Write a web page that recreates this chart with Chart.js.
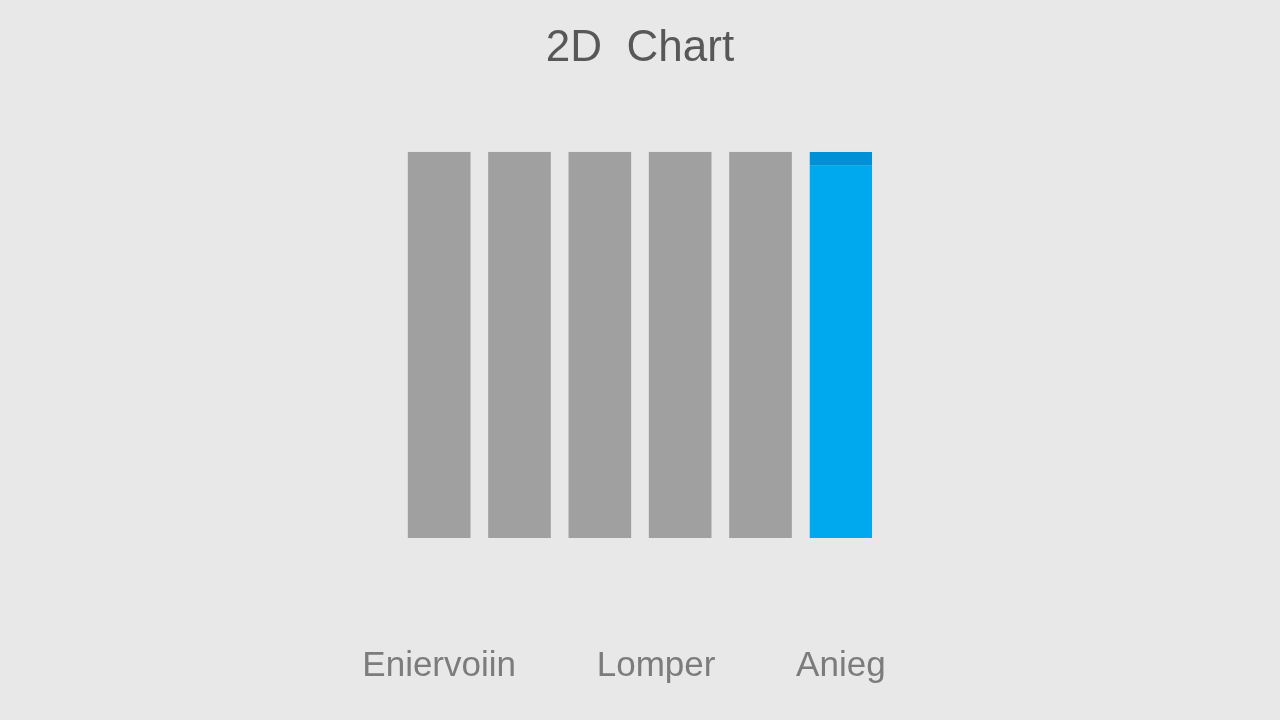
<!DOCTYPE html>
<html>
<head>
<meta charset="utf-8">
<title>2D Chart</title>
<script src="https://cdn.jsdelivr.net/npm/chart.js@4"></script>
<style>
  html, body { margin: 0; padding: 0; background: #e8e8e8; }
  #wrap { width: 1280px; height: 720px; position: relative; }
</style>
</head>
<body>
<div id="wrap"><canvas id="barChart"></canvas></div>
<script>
// chart data
const categories = ["1", "2", "3", "4", "5", "6"];
const values = [100, 100, 100, 100, 100, 100];
const highlightIndex = 5;

// the three labels under the bars and where they sit on the category range
const tickLabels = ["Eniervoiin", "Lomper", "Anieg"];
const tickPositions = [0.5, 3.2, 5.5];

const barColors = values.map((_, i) => i === highlightIndex ? "#00a9ee" : "#a0a0a0");
const barBorders = values.map((_, i) => i === highlightIndex ? "#0090d6" : "#a0a0a0");
const barBorderWidths = values.map((_, i) =>
  i === highlightIndex ? { top: 14, left: 0, right: 0, bottom: 0 } : 0
);

const ctx = document.getElementById("barChart").getContext("2d");

const myBarChart = new Chart(ctx, {
  type: "bar",
  data: {
    labels: categories,
    datasets: [{
      data: values,
      backgroundColor: barColors,
      borderColor: barBorders,
      borderWidth: barBorderWidths,
      borderSkipped: false,
      categoryPercentage: 1,
      barPercentage: 0.78
    }]
  },
  options: {
    responsive: true,
    maintainAspectRatio: false,
    animation: false,
    layout: {
      padding: { left: 399, right: 399, top: 0, bottom: 37 }
    },
    plugins: {
      legend: { display: false },
      tooltip: { enabled: false },
      title: {
        display: true,
        text: "2D  Chart",
        color: "#585858",
        font: { family: "Liberation Sans", size: 44, weight: "normal" },
        padding: { top: 22, bottom: 77 }
      }
    },
    scales: {
      x: { display: false },
      y: { display: false, min: 0, max: 100 },
      x2: {
        type: "linear",
        position: "bottom",
        offset: false,
        min: 0,
        max: categories.length,
        grid: { display: false, drawTicks: false },
        border: { display: false },
        afterBuildTicks: (axis) => {
          axis.ticks = tickPositions.map(v => ({ value: v }));
        },
        afterFit: (axis) => {
          axis.height = 145;
        },
        ticks: {
          autoSkip: false,
          maxRotation: 0,
          padding: 107,
          color: "#7c7c7c",
          font: { family: "Liberation Sans", size: 35 },
          callback: (value, index) => tickLabels[index]
        }
      }
    }
  }
});
</script>
</body>
</html>
